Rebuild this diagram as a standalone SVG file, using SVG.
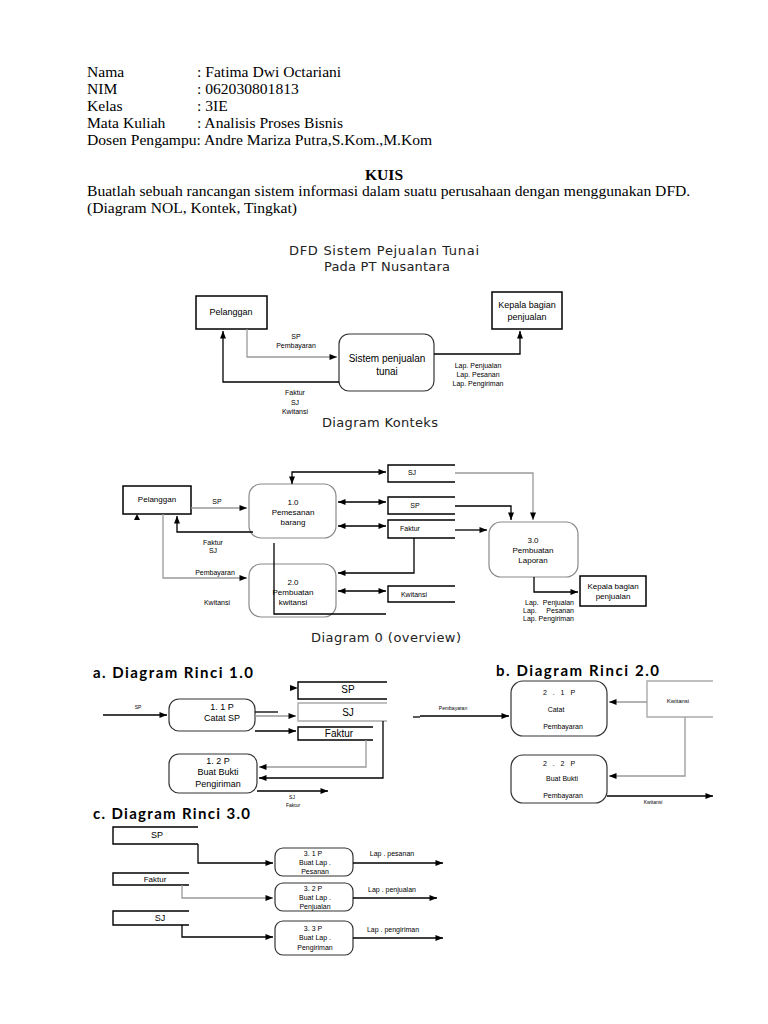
<svg xmlns="http://www.w3.org/2000/svg" width="768" height="1024" viewBox="0 0 768 1024">
<defs>
<marker id="ah" viewBox="0 0 10 8" refX="10" refY="4" markerWidth="8" markerHeight="6" markerUnits="userSpaceOnUse" orient="auto-start-reverse"><path d="M0,0 L10,4 L0,8 Z" fill="#000"/></marker>
<style>
.t{font-family:"Liberation Serif","Times New Roman",serif;font-size:15.6px;fill:#000}
.s{font-family:"Liberation Sans",Arial,sans-serif;fill:#000}
.c{text-anchor:middle}
.ti{font-family:"DejaVu Sans","Open Sans",sans-serif;font-size:13px;fill:#222}
.hd{font-family:Lato,"Open Sans",sans-serif;font-weight:bold;font-size:15px;fill:#000}
.ln{fill:none;stroke:#000;stroke-width:1.3}
.gl{fill:none;stroke:#9a9a9a;stroke-width:1.3}
.pr{fill:#fff;stroke:#8a8a8a;stroke-width:1.2}
.pk{fill:#fff;stroke:#333;stroke-width:1.2}
.ent{fill:#fff;stroke:#000;stroke-width:1.5}
.st{fill:none;stroke:#000;stroke-width:1.4}
.stg{fill:none;stroke:#aaa;stroke-width:1.4}
</style>
</defs>
<rect width="768" height="1024" fill="#fff"/>

<g id="header">
<text class="t" x="87" y="77">Nama</text><text class="t" x="197" y="77">: Fatima Dwi Octariani</text>
<text class="t" x="87" y="94">NIM</text><text class="t" x="197" y="94">: 062030801813</text>
<text class="t" x="87" y="111">Kelas</text><text class="t" x="197" y="111">: 3IE</text>
<text class="t" x="87" y="128">Mata Kuliah</text><text class="t" x="197" y="128">: Analisis Proses Bisnis</text>
<text class="t" x="87" y="145">Dosen Pengampu: Andre Mariza Putra,S.Kom.,M.Kom</text>
<text class="t c" x="384" y="180" font-weight="bold">KUIS</text>
<text class="t" x="87" y="196">Buatlah sebuah rancangan sistem informasi dalam suatu perusahaan dengan menggunakan DFD.</text>
<text class="t" x="87" y="213">(Diagram NOL, Kontek, Tingkat)</text>
</g>

<!-- Context diagram -->
<text class="ti c" x="384" y="255" textLength="190">DFD Sistem Pejualan Tunai</text>
<text class="ti c" x="387" y="271" textLength="126">Pada PT Nusantara</text>
<g id="k-pelanggan"><rect class="ent" x="196" y="296" width="71" height="33"/><text class="s c" x="231" y="315" font-size="9">Pelanggan</text></g>
<g id="k-kepala"><rect class="ent" x="492" y="292" width="70" height="37"/><text class="s c" x="527" y="308" font-size="9">Kepala bagian</text><text class="s c" x="527" y="320" font-size="9">penjualan</text></g>
<g id="k-sistem"><rect class="pk" x="339" y="334" width="95" height="57" rx="10"/><text class="s c" x="387" y="362" font-size="10">Sistem penjualan</text><text class="s c" x="387" y="375" font-size="10">tunai</text></g>
<g id="k-connectors">
<path class="gl" d="M247,329 V357 H337" marker-end="url(#ah)"/>
<path class="ln" d="M339,382 H223 V331" marker-end="url(#ah)"/>
<path class="ln" d="M434,354 H520 V331" marker-end="url(#ah)"/>
<text class="s c" x="296" y="339" font-size="7">SP</text>
<text class="s c" x="296" y="348" font-size="7">Pembayaran</text>
<text class="s c" x="295" y="395" font-size="7">Faktur</text>
<text class="s c" x="295" y="405" font-size="7">SJ</text>
<text class="s c" x="295" y="414" font-size="7">Kwitansi</text>
<text class="s c" x="478" y="368" font-size="7">Lap. Penjualan</text>
<text class="s c" x="478" y="377" font-size="7">Lap. Pesanan</text>
<text class="s c" x="478" y="386" font-size="7">Lap. Pengiriman</text>
</g>
<text class="ti c" x="380" y="427" textLength="116">Diagram Konteks</text>

<!-- Diagram 0 -->
<g id="d0-pelanggan"><rect class="ent" x="123" y="486" width="68" height="28"/><text class="s c" x="157" y="502" font-size="8">Pelanggan</text><path d="M134,520 L140,520 L137,514 Z" fill="#000"/></g>
<g id="d0-p1"><rect class="pr" x="249" y="484" width="87" height="54" rx="12"/><text class="s c" x="293" y="505" font-size="8">1.0</text><text class="s c" x="293" y="515" font-size="8">Pemesanan</text><text class="s c" x="293" y="525" font-size="8">barang</text></g>
<g id="d0-p2"><rect class="pr" x="249" y="564" width="87" height="53" rx="12"/><text class="s c" x="293" y="585" font-size="8">2.0</text><text class="s c" x="293" y="595" font-size="8">Pembuatan</text><text class="s c" x="293" y="605" font-size="8">kwitansi</text></g>
<g id="d0-p3"><rect class="pr" x="489" y="522" width="89" height="55" rx="12"/><text class="s c" x="533" y="543" font-size="8">3.0</text><text class="s c" x="533" y="553" font-size="8">Pembuatan</text><text class="s c" x="533" y="563" font-size="8">Laporan</text></g>
<g id="d0-kepala"><rect class="ent" x="580" y="576" width="66" height="30"/><text class="s c" x="613" y="589" font-size="8">Kepala bagian</text><text class="s c" x="613" y="599" font-size="8">penjualan</text></g>
<g id="d0-sj"><path class="st" d="M455,465 H388 V482 H455"/><text class="s c" x="412" y="475" font-size="7">SJ</text></g>
<g id="d0-sp"><path class="st" d="M455,497 H388 V514 H455"/><text class="s c" x="415" y="508" font-size="7">SP</text></g>
<g id="d0-faktur"><path class="st" d="M455,520 H388 V538 H455"/><text class="s c" x="410" y="531" font-size="7">Faktur</text></g>
<g id="d0-kwitansi"><path class="st" d="M455,586 H388 V602 H455"/><text class="s c" x="414" y="597" font-size="7">Kwitansi</text></g>
<g id="d0-connectors">
<path class="gl" d="M191,508 H247" marker-end="url(#ah)"/>
<path class="ln" d="M253,532 H177 V516" marker-end="url(#ah)"/>
<path class="gl" d="M163,514 V578 H247" marker-end="url(#ah)"/>
<path class="ln" d="M292,484 V472 H386" marker-start="url(#ah)" marker-end="url(#ah)"/>
<path class="ln" d="M338,502 H386" marker-start="url(#ah)" marker-end="url(#ah)"/>
<path class="ln" d="M338,526 H386" marker-start="url(#ah)" marker-end="url(#ah)"/>
<path class="ln" d="M414,538 V573 H338" marker-end="url(#ah)"/>
<path class="ln" d="M338,591 H386" marker-start="url(#ah)" marker-end="url(#ah)"/>
<path class="ln" d="M274,543 V614 H386"/>
<path class="gl" d="M455,473 H533 V520" marker-end="url(#ah)"/>
<path class="ln" d="M455,506 H511 V520" marker-end="url(#ah)"/>
<path class="ln" d="M455,530 H487" marker-end="url(#ah)"/>
<path class="ln" d="M534,577 V592 H578" marker-end="url(#ah)"/>
<text class="s c" x="217" y="504" font-size="7">SP</text>
<text class="s c" x="213" y="545" font-size="7">Faktur</text>
<text class="s c" x="213" y="553" font-size="7">SJ</text>
<text class="s c" x="215" y="575" font-size="7">Pembayaran</text>
<text class="s c" x="217" y="605" font-size="7">Kwitansi</text>
<text class="s" x="525" y="605" font-size="7">Lap.</text><text class="s" x="574" y="605" font-size="7" text-anchor="end">Penjualan</text>
<text class="s" x="523" y="613" font-size="7">Lap.</text><text class="s" x="574" y="613" font-size="7" text-anchor="end">Pesanan</text>
<text class="s" x="523" y="621" font-size="7">Lap. Pengiriman</text>
</g>
<text class="ti c" x="386" y="642" textLength="150">Diagram 0 (overview)</text>

<!-- Rinci 1.0 -->
<text class="hd" x="93" y="678" textLength="160">a. Diagram Rinci 1.0</text>
<g id="r1-p11"><rect class="pk" x="169" y="699" width="86" height="32" rx="10"/><text class="s c" x="222" y="710" font-size="9">1. 1 P</text><text class="s c" x="222" y="721" font-size="9">Catat SP</text></g>
<g id="r1-p12"><rect class="pk" x="169" y="754" width="88" height="39" rx="10"/><text class="s c" x="218" y="764" font-size="9">1. 2 P</text><text class="s c" x="218" y="775" font-size="9">Buat Bukti</text><text class="s c" x="218" y="787" font-size="9">Pengiriman</text></g>
<g id="r1-sp"><path class="st" d="M387,682 H298 V699 H387" stroke-width="1.6"/><text class="s c" x="348" y="693" font-size="10">SP</text></g>
<g id="r1-sj"><path class="stg" d="M387,703 H298 V721 H387"/><text class="s c" x="348" y="716" font-size="10">SJ</text></g>
<g id="r1-faktur"><path class="st" d="M373,727 H298 V740 H373"/><text class="s c" x="339" y="737" font-size="10">Faktur</text></g>
<g id="r1-connectors">
<path class="ln" d="M103,715 H167" marker-end="url(#ah)"/>
<text class="s c" x="138" y="709" font-size="5">SP</text>
<path class="ln" d="M255,712 H278"/>
<path class="gl" d="M255,716 H296" marker-end="url(#ah)"/>
<path class="ln" d="M255,731 H296" marker-end="url(#ah)"/>
<path d="M290,685 L298,688 L290,691 Z" fill="#000"/>
<path class="gl" d="M366,740 V767 H259" marker-end="url(#ah)"/>
<path class="ln" d="M383,721 V778 H259" marker-end="url(#ah)"/>
<path class="ln" d="M257,791 H328" marker-end="url(#ah)"/>
<text class="s c" x="292" y="799" font-size="5">SJ</text>
<text class="s c" x="293" y="807" font-size="5">Faktur</text>
<path class="ln" d="M413,717 H420"/>
</g>

<!-- Rinci 2.0 -->
<text class="hd" x="496" y="676" textLength="163">b. Diagram Rinci 2.0</text>
<g id="r2-p21"><rect class="pk" x="511" y="681" width="96" height="55" rx="12"/><text class="s c" x="560" y="695" font-size="7" letter-spacing="2">2 . 1 P</text><text class="s c" x="556" y="712" font-size="7">Catat</text><text class="s c" x="563" y="729" font-size="7">Pembayaran</text></g>
<g id="r2-p22"><rect class="pk" x="511" y="755" width="96" height="48" rx="12"/><text class="s c" x="560" y="766" font-size="7" letter-spacing="2">2 . 2 P</text><text class="s c" x="562" y="781" font-size="7">Buat Bukti</text><text class="s c" x="563" y="798" font-size="7">Pembayaran</text></g>
<g id="r2-kwitansi"><path class="stg" d="M713,681 H647 V717 H713" stroke="#888"/><text class="s c" x="678" y="703" font-size="6">Kwitansi</text></g>
<g id="r2-connectors">
<path class="ln" d="M420,716 H509" marker-end="url(#ah)"/>
<text class="s c" x="453" y="710" font-size="5">Pembayaran</text>
<path class="gl" d="M647,702 H609" marker-end="url(#ah)"/>
<path class="gl" d="M685,717 V776 H609" marker-end="url(#ah)"/>
<path class="ln" d="M607,796 H713" marker-end="url(#ah)"/>
<text class="s c" x="653" y="804" font-size="5">Kwitansi</text>
</g>

<!-- Rinci 3.0 -->
<text class="hd" x="93" y="819" textLength="157">c. Diagram Rinci 3.0</text>
<g id="r3-sp"><path class="st" d="M198,827 H113 V844 H198"/><text class="s c" x="157" y="838" font-size="9">SP</text></g>
<g id="r3-faktur"><path class="st" d="M189,873 H113 V885 H189"/><text class="s c" x="155" y="882" font-size="8">Faktur</text></g>
<g id="r3-sj"><path class="st" d="M189,911 H113 V925 H189"/><text class="s c" x="160" y="921" font-size="9">SJ</text></g>
<g id="r3-p31"><rect class="pk" x="275" y="848" width="78" height="28" rx="8"/><text class="s c" x="313" y="856" font-size="7">3. 1 P</text><text class="s c" x="315" y="865" font-size="7">Buat Lap .</text><text class="s c" x="315" y="874" font-size="7">Pesanan</text></g>
<g id="r3-p32"><rect class="pk" x="275" y="883" width="78" height="28" rx="8"/><text class="s c" x="313" y="891" font-size="7">3. 2 P</text><text class="s c" x="315" y="900" font-size="7">Buat Lap .</text><text class="s c" x="315" y="909" font-size="7">Penjualan</text></g>
<g id="r3-p33"><rect class="pk" x="275" y="921" width="78" height="34" rx="8"/><text class="s c" x="313" y="931" font-size="7">3. 3 P</text><text class="s c" x="315" y="940" font-size="7">Buat Lap .</text><text class="s c" x="315" y="950" font-size="7">Pengiriman</text></g>
<g id="r3-connectors">
<path class="ln" d="M198,844 V863 H273" marker-end="url(#ah)"/>
<path class="gl" d="M182,885 V898 H273" marker-end="url(#ah)"/>
<path class="ln" d="M182,925 V937 H273" stroke="#444" marker-end="url(#ah)"/>
<path class="ln" d="M353,863 H443" marker-end="url(#ah)"/>
<path class="ln" d="M353,898 H437" marker-end="url(#ah)"/>
<path class="ln" d="M353,938 H443" marker-end="url(#ah)"/>
<text class="s c" x="392" y="856" font-size="7">Lap . pesanan</text>
<text class="s c" x="392" y="892" font-size="7">Lap . penjualan</text>
<text class="s c" x="393" y="932" font-size="7">Lap . pengiriman</text>
</g>
</svg>
